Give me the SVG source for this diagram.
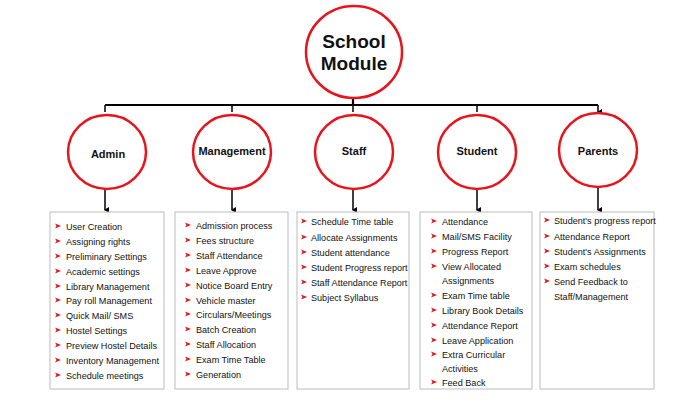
<svg xmlns="http://www.w3.org/2000/svg" width="700" height="400" viewBox="0 0 700 400">
<style>
.c{fill:#fff;stroke:#e8141c;stroke-width:2.5}
.t{font-family:"Liberation Sans",Arial,sans-serif;font-weight:bold;fill:#111;text-anchor:middle}
.b{fill:#fff;stroke:#bbb;stroke-width:1}
.l{font-family:"Liberation Sans",Arial,sans-serif;font-size:9.1px;fill:#111}
.k{stroke:#000;stroke-width:2.2;fill:none}
.a{stroke:#000;stroke-width:1.5;fill:none}
</style>
<defs>
<marker id="ar" markerWidth="6" markerHeight="6" refX="3" refY="5" orient="auto" markerUnits="userSpaceOnUse" viewBox="0 0 6 6"><path d="M0,1 L3,6 L6,1 Z" fill="#000"/></marker>
<path id="bu" d="M-3,-2.5 L3,0 L-3,2.5 L-1.5,0 Z" fill="#e8141c"/>
</defs>
<g id="connectors">
<path class="k" d="M353,99 V105 M105,105 H598"/>
<path class="a" d="M105,105 V112 M232,105 V112 M353,105 V112 M477,105 V112 M598,105 V112" marker-end="url(#ar)"/>
<path class="a" d="M105,189 V210" marker-end="url(#ar)"/>
<path class="a" d="M232,189 V210" marker-end="url(#ar)"/>
<path class="a" d="M353,189 V210" marker-end="url(#ar)"/>
<path class="a" d="M477,189 V210" marker-end="url(#ar)"/>
<path class="a" d="M598,187 V210" marker-end="url(#ar)"/>
</g>
<g id="school"><ellipse class="c" cx="354" cy="52" rx="48" ry="46"/><text class="t" x="354" y="48" font-size="19">School</text><text class="t" x="354" y="70" font-size="19">Module</text></g>
<g id="admin"><ellipse class="c" cx="107" cy="152" rx="39" ry="37"/><text class="t" x="108" y="158" font-size="11">Admin</text></g>
<g id="management"><ellipse class="c" cx="232" cy="152" rx="39" ry="37"/><text class="t" x="232" y="155" font-size="11">Management</text></g>
<g id="staff"><ellipse class="c" cx="354" cy="152" rx="39" ry="37"/><text class="t" x="354" y="155" font-size="11">Staff</text></g>
<g id="student"><ellipse class="c" cx="477" cy="152" rx="39" ry="37"/><text class="t" x="477" y="155" font-size="11">Student</text></g>
<g id="parents"><ellipse class="c" cx="598" cy="150" rx="39" ry="37"/><text class="t" x="598" y="155" font-size="11">Parents</text></g>
<g id="admin-list"><rect class="b" x="50" y="212" width="114" height="177"/>
<g class="l">
<use href="#bu" x="58" y="226"/><text x="66" y="229.5">User Creation</text>
<use href="#bu" x="58" y="241"/><text x="66" y="244.5">Assigning rights</text>
<use href="#bu" x="58" y="256"/><text x="66" y="259.5">Preliminary Settings</text>
<use href="#bu" x="58" y="271"/><text x="66" y="274.5">Academic settings</text>
<use href="#bu" x="58" y="286"/><text x="66" y="289.5">Library Management</text>
<use href="#bu" x="58" y="300"/><text x="66" y="303.5">Pay roll Management</text>
<use href="#bu" x="58" y="315"/><text x="66" y="318.5">Quick Mail/ SMS</text>
<use href="#bu" x="58" y="330"/><text x="66" y="333.5">Hostel Settings</text>
<use href="#bu" x="58" y="345"/><text x="66" y="348.5">Preview Hostel Details</text>
<use href="#bu" x="58" y="360"/><text x="66" y="363.5">Inventory Management</text>
<use href="#bu" x="58" y="375"/><text x="66" y="378.5">Schedule meetings</text>
</g></g>
<g id="management-list"><rect class="b" x="175" y="212" width="113" height="177"/>
<g class="l">
<use href="#bu" x="188" y="225"/><text x="196" y="228.5">Admission process</text>
<use href="#bu" x="188" y="240"/><text x="196" y="243.5">Fees structure</text>
<use href="#bu" x="188" y="255"/><text x="196" y="258.5">Staff Attendance</text>
<use href="#bu" x="188" y="270"/><text x="196" y="273.5">Leave Approve</text>
<use href="#bu" x="188" y="285"/><text x="196" y="288.5">Notice Board Entry</text>
<use href="#bu" x="188" y="300"/><text x="196" y="303.5">Vehicle master</text>
<use href="#bu" x="188" y="314"/><text x="196" y="317.5">Circulars/Meetings</text>
<use href="#bu" x="188" y="329"/><text x="196" y="332.5">Batch Creation</text>
<use href="#bu" x="188" y="344"/><text x="196" y="347.5">Staff Allocation</text>
<use href="#bu" x="188" y="359"/><text x="196" y="362.5">Exam Time Table</text>
<use href="#bu" x="188" y="374"/><text x="196" y="377.5">Generation</text>
</g></g>
<g id="staff-list"><rect class="b" x="297" y="212" width="112" height="177"/>
<g class="l">
<use href="#bu" x="304" y="221"/><text x="311" y="224.5">Schedule Time table</text>
<use href="#bu" x="304" y="237"/><text x="311" y="240.5">Allocate Assignments</text>
<use href="#bu" x="304" y="252"/><text x="311" y="255.5">Student attendance</text>
<use href="#bu" x="304" y="267"/><text x="311" y="270.5">Student Progress report</text>
<use href="#bu" x="304" y="282"/><text x="311" y="285.5">Staff Attendance Report</text>
<use href="#bu" x="304" y="297"/><text x="311" y="300.5">Subject Syllabus</text>
</g></g>
<g id="student-list"><rect class="b" x="420" y="212" width="112" height="177"/>
<g class="l">
<use href="#bu" x="434" y="221"/><text x="442" y="224.5">Attendance</text>
<use href="#bu" x="434" y="236"/><text x="442" y="239.5">Mail/SMS Facility</text>
<use href="#bu" x="434" y="251"/><text x="442" y="254.5">Progress Report</text>
<use href="#bu" x="434" y="266"/><text x="442" y="269.5">View Allocated</text>
<text x="442" y="284">Assignments</text>
<use href="#bu" x="434" y="295"/><text x="442" y="298.5">Exam Time table</text>
<use href="#bu" x="434" y="310"/><text x="442" y="313.5">Library Book Details</text>
<use href="#bu" x="434" y="325"/><text x="442" y="328.5">Attendance Report</text>
<use href="#bu" x="434" y="340"/><text x="442" y="343.5">Leave Application</text>
<use href="#bu" x="434" y="354"/><text x="442" y="357.5">Extra Curricular</text>
<text x="442" y="372">Activities</text>
<use href="#bu" x="434" y="382"/><text x="442" y="385.5">Feed Back</text>
</g></g>
<g id="parents-list"><rect class="b" x="540" y="212" width="114" height="177"/>
<g class="l">
<use href="#bu" x="547" y="220"/><text x="554" y="223.5">Student's progress report</text>
<use href="#bu" x="547" y="236"/><text x="554" y="239.5">Attendance Report</text>
<use href="#bu" x="547" y="251"/><text x="554" y="254.5">Student's Assignments</text>
<use href="#bu" x="547" y="266"/><text x="554" y="269.5">Exam schedules</text>
<use href="#bu" x="547" y="281"/><text x="554" y="284.5">Send Feedback to</text>
<text x="554" y="299.5">Staff/Management</text>
</g></g>
</svg>
